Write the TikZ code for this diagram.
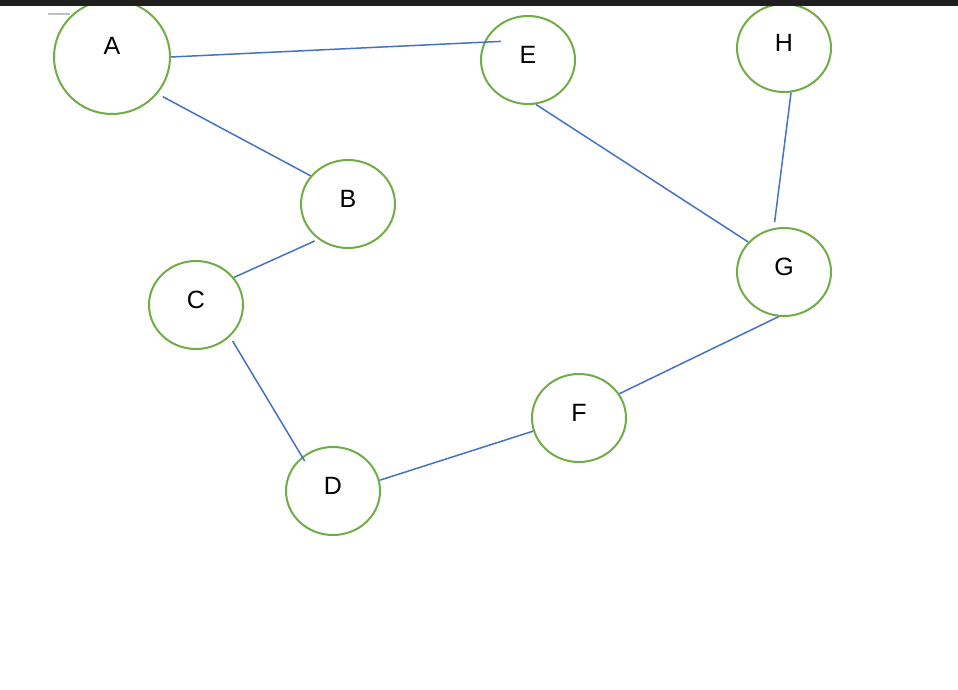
\documentclass[tikz,border=0pt]{standalone}
\usepackage{fontspec}
\setmainfont{Liberation Sans}
\usetikzlibrary{shapes.geometric}

\definecolor{nodegreen}{HTML}{70AD47}
\definecolor{edgeblue}{HTML}{4472C4}

\begin{document}
\begin{tikzpicture}[
    x=1pt, y=-1pt,
    vertex/.style={ellipse, draw=nodegreen, fill=white, line width=2pt, inner sep=0pt,
        minimum width=94pt, minimum height=88pt, text height=17pt, text depth=10pt,
        font=\fontsize{25}{29}\selectfont},
    big vertex/.style={vertex, minimum width=116pt, minimum height=114pt, text depth=22pt},
    edge/.style={draw=edgeblue, line width=1.5pt}
]
\useasboundingbox (0,0) rectangle (958,690);

% --- Vertices, placed as in the screen capture ---
\node[big vertex] (A) at (112,57)  {A};
\node[vertex]     (E) at (528,60)  {E};
\node[vertex]     (H) at (784,48)  {H};
\node[vertex]     (B) at (348,204) {B};
\node[vertex]     (C) at (196,305) {C};
\node[vertex]     (G) at (784,272) {G};
\node[vertex]     (F) at (579,418) {F};
\node[vertex]     (D) at (333,491) {D};

% --- Edges: A-E, A-B, B-C, C-D, D-F, F-G, G-E, G-H ---
\draw[edge, shorten >=-17pt] (A.0) -- (E.158);
\draw[edge, shorten <=6pt] (A.-39) -- (B.143);
\draw[edge, shorten <=4pt] (B.230) -- (C.36);
\draw[edge, shorten <=5pt, shorten >=-5pt] (C.-43) -- (D.132);
\draw[edge] (D.13) -- (F.196);
\draw[edge] (F.31) -- (G.263);
\draw[edge] (E.-80) -- (G.140);
\draw[edge, shorten >=6pt] (H.-81) -- (G.103);

% --- Window bar and stray mark at the top ---
\fill[black!88] (0,0) rectangle (958,6);
\draw[black!25, line width=1.5pt] (48,14) -- (70,14);

\end{tikzpicture}
\end{document}
